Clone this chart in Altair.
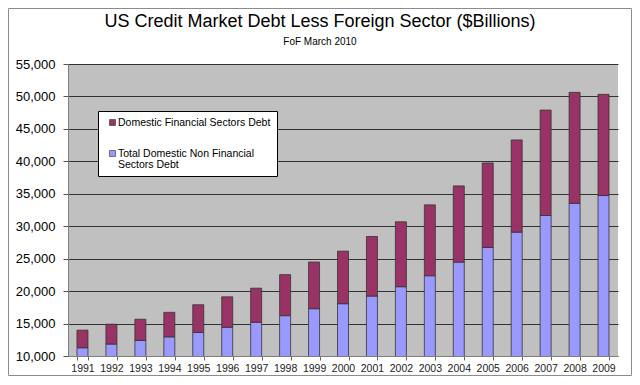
import altair as alt
import pandas as pd

years = [str(y) for y in range(1991, 2010)]
s_nonfin = "Total Domestic Non Financial Sectors Debt"
s_fin = "Domestic Financial Sectors Debt"
nonfin = [11270, 11840, 12400, 12950, 13620, 14430, 15200, 16220, 17290, 18060,
          19240, 20680, 22370, 24470, 26730, 29090, 31650, 33540, 34730]
fin = [2710, 3060, 3260, 3780, 4280, 4690, 5250, 6320, 7190, 8100,
       9180, 10000, 10920, 11740, 13020, 14210, 16250, 17090, 15590]
y_ticks = list(range(10000, 55001, 5000))
title_text = "US Credit Market Debt Less Foreign Sector ($Billions)"
subtitle_text = "FoF March 2010"

rows = []
for i, yr in enumerate(years):
    rows.append({"year": yr, "series": s_nonfin, "value": nonfin[i], "rank": 0})
    rows.append({"year": yr, "series": s_fin, "value": fin[i], "rank": 1})
df = pd.DataFrame(rows)

FONT = "Liberation Sans"
color_scale = alt.Scale(domain=[s_nonfin, s_fin], range=["#9999FF", "#993366"])

bars = alt.Chart(df).mark_bar(clip=True, stroke="#333333", strokeWidth=0.8).encode(
    x=alt.X("year:O", scale=alt.Scale(paddingInner=0.62, paddingOuter=0.31),
            axis=alt.Axis(title=None, labelAngle=0, tickBand="extent", tickSize=4,
                          tickColor="#666666", domainColor="#808080",
                          labelFont=FONT, labelFontSize=10.5, labelColor="#222222",
                          labelPadding=3)),
    y=alt.Y("value:Q", stack="zero",
            scale=alt.Scale(domain=[10000, 55000], nice=False, zero=False),
            axis=alt.Axis(title=None, values=y_ticks, format=",.0f", grid=True,
                          gridColor="#333333", gridWidth=1, tickSize=5,
                          tickColor="#555555", domainColor="#808080",
                          labelFont=FONT, labelFontSize=13, labelColor="#000000",
                          labelPadding=8)),
    color=alt.Color("series:N", scale=color_scale, legend=None),
    order=alt.Order("rank:Q"),
)

frame = alt.Chart(pd.DataFrame({"a": [0]})).mark_rect(
    fill="transparent", stroke="#8c8c8c", strokeWidth=1
).encode(x=alt.value(-59.5), x2=alt.value(563.5), y=alt.value(-55.5), y2=alt.value(311.5))

legend_box = alt.Chart(pd.DataFrame({"a": [0]})).mark_rect(
    fill="white", stroke="#000000", strokeWidth=1
).encode(x=alt.value(30.5), x2=alt.value(209.5), y=alt.value(47.5), y2=alt.value(112.5))

leg_fin = pd.DataFrame({"series": [s_fin], "label": [s_fin]})
leg_nf = pd.DataFrame({"series": [s_nonfin],
                       "l1": ["Total Domestic Non Financial"],
                       "l2": ["Sectors Debt"]})

sym1 = alt.Chart(leg_fin).mark_square(size=36, stroke="#333333", strokeWidth=0.6, opacity=1).encode(
    x=alt.value(44.5), y=alt.value(58.5),
    color=alt.Color("series:N", scale=color_scale, legend=None))
txt1 = alt.Chart(leg_fin).mark_text(align="left", baseline="middle", font=FONT, fontSize=10.5,
                                    color="#000000").encode(
    x=alt.value(50), y=alt.value(59), text="label:N")
sym2 = alt.Chart(leg_nf).mark_square(size=36, stroke="#333333", strokeWidth=0.6, opacity=1).encode(
    x=alt.value(44.5), y=alt.value(89.5),
    color=alt.Color("series:N", scale=color_scale, legend=None))
txt2a = alt.Chart(leg_nf).mark_text(align="left", baseline="middle", font=FONT, fontSize=10.5,
                                    color="#000000").encode(
    x=alt.value(50), y=alt.value(89.5), text="l1:N")
txt2b = alt.Chart(leg_nf).mark_text(align="left", baseline="middle", font=FONT, fontSize=10.5,
                                    color="#000000").encode(
    x=alt.value(50), y=alt.value(100.5), text="l2:N")

title_df = pd.DataFrame({"t": [title_text], "s": [subtitle_text]})
title = alt.Chart(title_df).mark_text(align="center", baseline="middle", font=FONT,
                                      fontSize=18, color="#000000").encode(
    x=alt.value(252), y=alt.value(-42), text="t:N")
subtitle = alt.Chart(title_df).mark_text(align="center", baseline="middle", font=FONT,
                                         fontSize=10, color="#000000").encode(
    x=alt.value(252), y=alt.value(-22), text="s:N")

chart = alt.layer(frame, bars, legend_box, sym1, txt1, sym2, txt2a, txt2b, title, subtitle).properties(
    width=550, height=292,
    autosize=alt.AutoSizeParams(type="none"),
    padding={"left": 60, "top": 56, "right": 14, "bottom": 20},
    background="white",
).configure_view(fill="#C0C0C0", strokeWidth=0)

chart.save("out.html", embed_options={"renderer": "svg", "actions": False})
